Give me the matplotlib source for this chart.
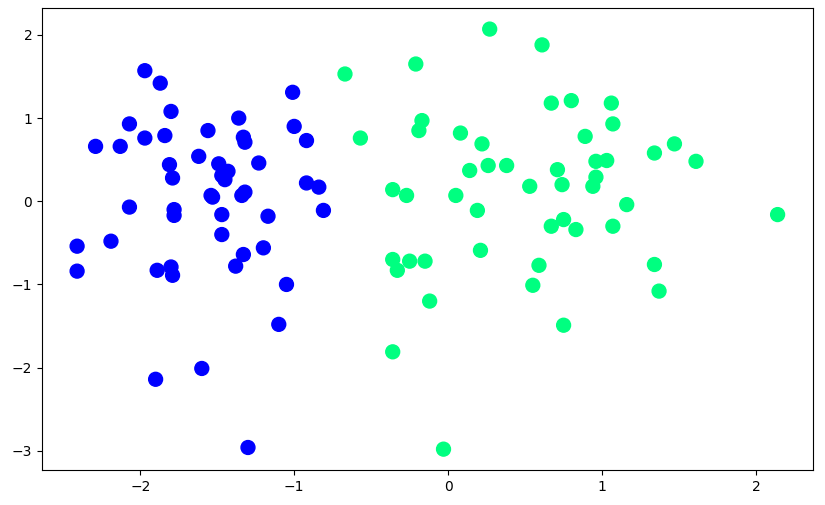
import numpy as np
import matplotlib
matplotlib.use("Agg")
import matplotlib.pyplot as plt

# class 0 (blue)
x0 = [-2.41, -2.41, -2.29, -2.19, -2.13, -2.07, -2.07, -1.97, -1.97, -1.87,
      -1.90, -1.89, -1.84, -1.81, -1.80, -1.79, -1.78, -1.78, -1.80, -1.79,
      -1.62, -1.60, -1.56, -1.54, -1.53, -1.49, -1.47, -1.45, -1.43, -1.47,
      -1.47, -1.36, -1.38, -1.33, -1.32, -1.34, -1.32, -1.33, -1.30, -1.23,
      -1.20, -1.17, -1.10, -1.05, -1.01, -1.00, -0.92, -0.92, -0.84, -0.81]
y0 = [-0.54, -0.84, 0.66, -0.48, 0.66, 0.93, -0.07, 1.57, 0.76, 1.42,
      -2.14, -0.83, 0.79, 0.44, 1.08, 0.28, -0.10, -0.17, -0.79, -0.89,
      0.54, -2.01, 0.85, 0.07, 0.05, 0.45, 0.31, 0.26, 0.36, -0.16,
      -0.40, 1.00, -0.78, 0.77, 0.71, 0.07, 0.11, -0.64, -2.96, 0.46,
      -0.56, -0.18, -1.48, -1.00, 1.31, 0.90, 0.73, 0.22, 0.17, -0.11]

# class 1 (green)
x1 = [-0.67, -0.57, -0.36, -0.36, -0.36, -0.33, -0.27, -0.25, -0.21, -0.19,
      -0.17, -0.15, -0.12, -0.03, 0.05, 0.08, 0.14, 0.19, 0.21, 0.22,
      0.26, 0.27, 0.38, 0.53, 0.55, 0.59, 0.61, 0.67, 0.67, 0.71,
      0.74, 0.75, 0.75, 0.80, 0.83, 0.89, 0.94, 0.96, 0.96, 1.03,
      1.06, 1.07, 1.07, 1.16, 1.34, 1.34, 1.37, 1.47, 1.61, 2.14]
y1 = [1.53, 0.76, 0.14, -0.70, -1.81, -0.83, 0.07, -0.72, 1.65, 0.85,
      0.97, -0.72, -1.20, -2.98, 0.07, 0.82, 0.37, -0.11, -0.59, 0.69,
      0.43, 2.07, 0.43, 0.18, -1.01, -0.77, 1.88, 1.18, -0.30, 0.38,
      0.20, -0.22, -1.49, 1.21, -0.34, 0.78, 0.18, 0.48, 0.29, 0.49,
      1.18, -0.30, 0.93, -0.04, 0.58, -0.76, -1.08, 0.69, 0.48, -0.16]

X = np.array(x0 + x1)
Y = np.array(y0 + y1)
labels = np.array([0] * len(x0) + [1] * len(x1))

fig = plt.figure(figsize=(8.25, 5.05), dpi=100)
ax = fig.add_axes([0.051, 0.069, 0.934, 0.915])
ax.scatter(X, Y, c=labels, cmap="winter", s=100)
fig.savefig("out.png")
